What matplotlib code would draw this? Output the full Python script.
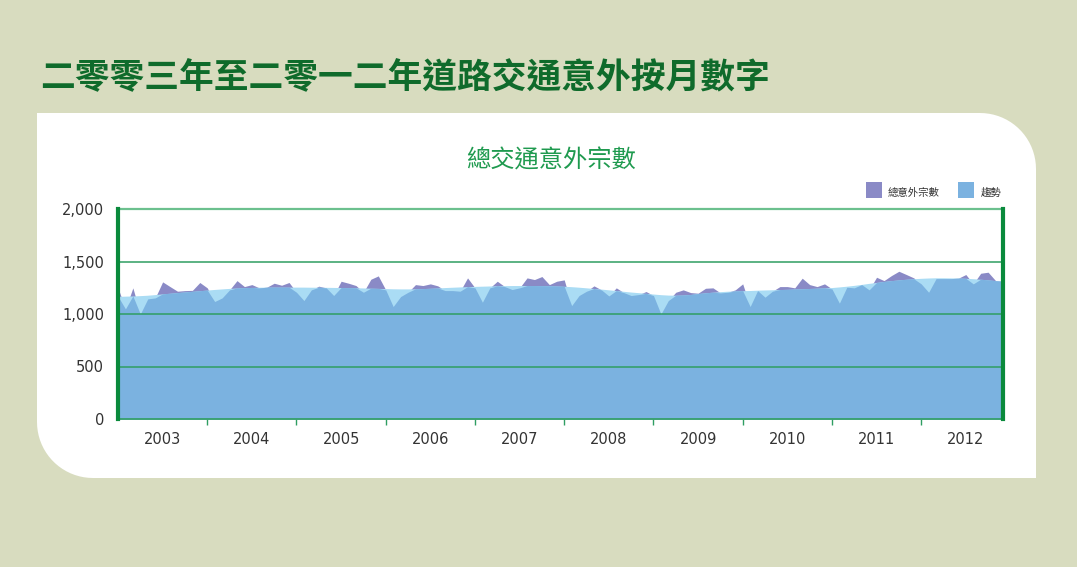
import numpy as np
import matplotlib
matplotlib.use("Agg")
import matplotlib.pyplot as plt
from matplotlib.path import Path
from matplotlib.patches import PathPatch, Rectangle
from matplotlib.transforms import Affine2D

# Monthly data, Jan 2003 .. Dec 2012
years = ["2003", "2004", "2005", "2006", "2007", "2008", "2009", "2010", "2011", "2012"]

accidents = [
    1249, 1049, 1249, 1000, 1144, 1153, 1306, 1261, 1217, 1223, 1225, 1300,   # 2003
    1249, 1119, 1153, 1230, 1318, 1261, 1280, 1249, 1255, 1293, 1274, 1300,   # 2004
    1207, 1128, 1230, 1265, 1249, 1176, 1312, 1293, 1271, 1207, 1331, 1363,   # 2005
    1230, 1071, 1166, 1207, 1280, 1271, 1287, 1268, 1223, 1223, 1217, 1344,   # 2006
    1249, 1112, 1249, 1312, 1261, 1233, 1249, 1344, 1328, 1357, 1280, 1312,   # 2007
    1325, 1080, 1176, 1217, 1268, 1230, 1172, 1249, 1204, 1176, 1185, 1214,   # 2008
    1176, 1000, 1128, 1207, 1230, 1204, 1198, 1245, 1249, 1201, 1207, 1230,   # 2009
    1287, 1071, 1223, 1160, 1217, 1261, 1261, 1249, 1341, 1280, 1261, 1287,   # 2010
    1239, 1103, 1255, 1249, 1280, 1230, 1350, 1318, 1366, 1407, 1376, 1344,   # 2011
    1287, 1207, 1337, 1337, 1337, 1341, 1376, 1287, 1388, 1398, 1318, 1312,   # 2012
]

trend = [
    1168, 1170, 1172, 1175, 1179, 1185, 1192, 1198, 1204, 1210, 1216, 1222,
    1228, 1234, 1239, 1244, 1248, 1251, 1253, 1255, 1256, 1256, 1256, 1256,
    1256, 1256, 1255, 1255, 1254, 1253, 1252, 1251, 1250, 1248, 1246, 1244,
    1242, 1240, 1239, 1239, 1240, 1242, 1245, 1248, 1252, 1255, 1258, 1261,
    1263, 1265, 1267, 1269, 1270, 1271, 1271, 1271, 1271, 1270, 1269, 1267,
    1264, 1260, 1255, 1249, 1243, 1237, 1230, 1223, 1216, 1209, 1203, 1197,
    1190, 1184, 1180, 1179, 1181, 1186, 1195, 1202, 1208, 1213, 1217, 1220,
    1222, 1224, 1227, 1229, 1231, 1233, 1235, 1238, 1240, 1243, 1246, 1249,
    1252, 1258, 1265, 1273, 1282, 1292, 1301, 1310, 1318, 1325, 1331, 1336,
    1340, 1343, 1345, 1345, 1344, 1343, 1340, 1336, 1331, 1325, 1318, 1310,
]

yticks = [0, 500, 1000, 1500, 2000]

BG = "#d8dcbf"
PURPLE = "#8a8ac6"
BLUE = "#7bb2e0"
LIGHT = "#aadcf4"
DARKGREEN = "#0a8a3c"
GRIDGREEN = "#2f9e62"


def main():
    W, H = 1077, 567
    fig = plt.figure(figsize=(W / 100, H / 100), dpi=100)
    fig.patch.set_facecolor(BG)
    px = Affine2D().scale(1.0 / W, 1.0 / H) + fig.transFigure

    # white panel with rounded top-right and bottom-left corners
    x0, x1, yb, yt, r = 37, 1036, H - 478, H - 113, 56
    a = np.linspace(0, np.pi / 2, 20)
    pts = [(x0, yt)]
    pts += [(x1 - r + r * np.sin(t), yt - r + r * np.cos(t)) for t in a]
    pts += [(x1, yb)]
    pts += [(x0 + r - r * np.sin(t), yb + r - r * np.cos(t)) for t in a]
    pts += [(x0, yt)]
    panel = PathPatch(Path(pts), transform=px, facecolor="white",
                      edgecolor="none", zorder=-5)
    fig.patches.append(panel)

    cjk = ["Noto Sans CJK TC", "DejaVu Sans"]
    fig.text(40 / W, 1 - 78 / H, "二零零三年至二零一二年道路交通意外按月數字",
             family=cjk, fontsize=25, fontweight="bold", color="#0f6b2b",
             ha="left", va="center")
    fig.text(551 / W, 1 - 160 / H, "總交通意外宗數", family=cjk,
             fontsize=17.5, color="#1f9a4f", ha="center", va="center")

    # legend
    fig.patches.append(Rectangle((866, H - 198), 16, 16, transform=px,
                                 facecolor=PURPLE, edgecolor="none"))
    fig.text(888 / W, 1 - 193 / H, "總意外宗數", family=cjk, fontsize=7.5,
             color="#333333", ha="left", va="center")
    fig.patches.append(Rectangle((958, H - 198), 16, 16, transform=px,
                                 facecolor=BLUE, edgecolor="none"))
    fig.text(981 / W, 1 - 193 / H, "趨勢", family=cjk, fontsize=7.5,
             color="#333333", ha="left", va="center")

    ax = fig.add_axes([118 / W, 1 - 419 / H, 885 / W, 210 / H])
    ax.set_zorder(2)
    ax.set_facecolor("none")
    x = np.arange(len(accidents))
    acc = np.array(accidents)
    tr = np.array(trend)
    ax.fill_between(x, 0, acc, color=PURPLE, lw=0, zorder=1)
    ax.fill_between(x, 0, tr, color=LIGHT, lw=0, zorder=2)
    ax.fill_between(x, 0, np.minimum(acc, tr), color=BLUE, lw=0, zorder=3)

    ax.set_xlim(0, len(accidents) - 1)
    ax.set_ylim(0, 2000)
    ax.set_yticks(yticks)
    ax.set_yticklabels([f"{v:,}" for v in yticks], fontsize=10.5, color="#333333")
    for v in yticks[1:-1]:
        ax.axhline(v, color=GRIDGREEN, lw=1.1, zorder=4)
    ax.tick_params(axis="y", length=0, pad=10)

    ax.set_xticks([12 * k for k in range(1, 10)])
    ax.set_xticklabels([])
    ax.set_xticks([12 * k + 6 for k in range(10)], minor=True)
    ax.set_xticklabels(years, minor=True, fontsize=10.5, color="#333333")
    ax.tick_params(axis="x", which="major", direction="inout", length=8,
                   width=1, color=GRIDGREEN)
    ax.tick_params(axis="x", which="minor", length=0, pad=9)

    ax.spines["top"].set_color("#6cc08e")
    ax.spines["top"].set_linewidth(1.6)
    ax.spines["bottom"].set_color(GRIDGREEN)
    ax.spines["bottom"].set_linewidth(1.2)
    ax.spines["bottom"].set_zorder(5)
    for s in ["left", "right"]:
        ax.spines[s].set_color(DARKGREEN)
        ax.spines[s].set_linewidth(3)
        ax.spines[s].set_zorder(6)

    fig.savefig("out.png", dpi=100, facecolor=BG)


if __name__ == "__main__":
    main()
